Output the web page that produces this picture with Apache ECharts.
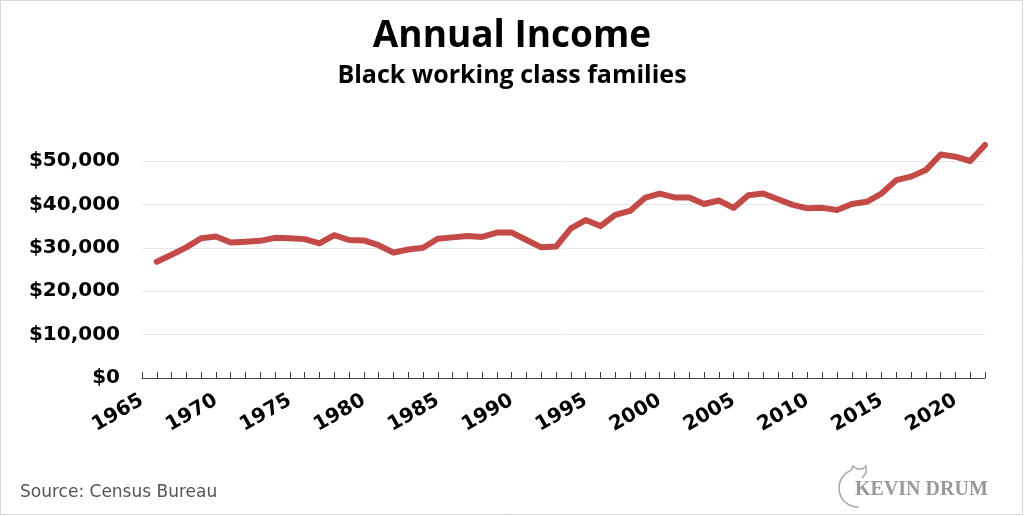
<!DOCTYPE html>
<html>
<head>
<meta charset="utf-8">
<script src="https://cdn.jsdelivr.net/npm/echarts@6/dist/echarts.min.js"></script>
<style>
  html, body { margin: 0; padding: 0; background: #fff; }
  #chart { width: 1024px; height: 516px; }
</style>
</head>
<body>
<div id="chart"></div>
<script>
// years with data (1966-2022)
var years = [1966, 1967, 1968, 1969, 1970, 1971, 1972, 1973, 1974, 1975,
    1976, 1977, 1978, 1979, 1980, 1981, 1982, 1983, 1984, 1985,
    1986, 1987, 1988, 1989, 1990, 1991, 1992, 1993, 1994, 1995,
    1996, 1997, 1998, 1999, 2000, 2001, 2002, 2003, 2004, 2005,
    2006, 2007, 2008, 2009, 2010, 2011, 2012, 2013, 2014, 2015,
    2016, 2017, 2018, 2019, 2020, 2021, 2022];

// annual income, dollars
var income = [26800, 28400, 30100, 32200, 32600, 31200, 31400, 31600, 32300, 32200,
    32000, 31000, 32900, 31800, 31700, 30600, 28900, 29600, 30000, 32100,
    32400, 32700, 32500, 33500, 33500, 31800, 30100, 30300, 34500, 36400,
    35000, 37600, 38500, 41500, 42500, 41600, 41600, 40100, 40900, 39200,
    42100, 42500, 41200, 39900, 39100, 39200, 38700, 40100, 40600, 42500,
    45600, 46400, 47900, 51500, 51000, 50000, 53700];

var yTicks = [0, 10000, 20000, 30000, 40000, 50000];

var chart = echarts.init(document.getElementById('chart'));

var points = [];
for (var i = 0; i < years.length; i++) {
    points.push([years[i], income[i]]);
}

chart.setOption({
    animation: false,
    backgroundColor: '#fff',
    title: [{
        text: 'Annual Income',
        left: 'center',
        top: 13,
        textStyle: { fontFamily: 'Open Sans', fontWeight: 'bold', fontSize: 37, color: '#000' }
    }, {
        text: 'Black working class families',
        left: 'center',
        top: 58,
        textStyle: { fontFamily: 'Open Sans', fontWeight: 'bold', fontSize: 25, color: '#000' }
    }],
    grid: { left: 142, right: 39, top: 161, bottom: 138 },
    xAxis: {
        type: 'value',
        min: 1965,
        max: 2022,
        interval: 1,
        axisLine: { lineStyle: { color: '#444', width: 1 } },
        axisTick: { inside: true, length: 6, lineStyle: { color: '#444' } },
        splitLine: { show: false },
        axisLabel: {
            rotate: 30,
            margin: 21,
            fontFamily: 'DejaVu Sans',
            fontWeight: 'bold',
            fontSize: 20,
            color: '#000',
            formatter: function(v) { return v % 5 === 0 ? String(v) : ''; }
        }
    },
    yAxis: {
        type: 'value',
        min: yTicks[0],
        max: yTicks[yTicks.length - 1],
        interval: 10000,
        axisLine: { show: false },
        axisTick: { show: false },
        splitLine: { lineStyle: { color: '#e8e8e8', width: 1 } },
        axisLabel: {
            margin: 22,
            fontFamily: 'DejaVu Sans',
            fontWeight: 'bold',
            fontSize: 20,
            color: '#000',
            formatter: function(v) { return '$' + v.toLocaleString('en-US'); }
        }
    },
    series: [{
        type: 'line',
        data: points,
        clip: false,
        symbol: 'none',
        lineStyle: { color: '#c44a48', width: 6, join: 'round', cap: 'round' }
    }],
    graphic: [{
        type: 'rect',
        shape: { x: 0.5, y: 0.5, width: 1022, height: 514 },
        style: { fill: 'none', stroke: '#d8d8d8', lineWidth: 1 }
    }, {
        type: 'text',
        left: 20,
        top: 484,
        style: { text: 'Source: Census Bureau', fontFamily: 'DejaVu Sans', fontSize: 17, fill: '#555' }
    }, {
        type: 'text',
        left: 855,
        top: 480,
        style: { text: 'KEVIN DRUM', fontFamily: 'Liberation Serif', fontWeight: 'bold', fontSize: 20, fill: '#999' }
    }, {
        type: 'arc',
        shape: { cx: 858, cy: 488, r: 19, startAngle: 1.55, endAngle: 4.3 },
        style: { fill: 'none', stroke: '#a8a8a8', lineWidth: 1.5 }
    }, {
        type: 'polyline',
        shape: { points: [[851, 471], [853, 466], [857, 469], [862, 469], [866, 466], [866, 473], [862, 478]] },
        style: { fill: 'none', stroke: '#a8a8a8', lineWidth: 1.5 }
    }]
});
</script>
</body>
</html>
